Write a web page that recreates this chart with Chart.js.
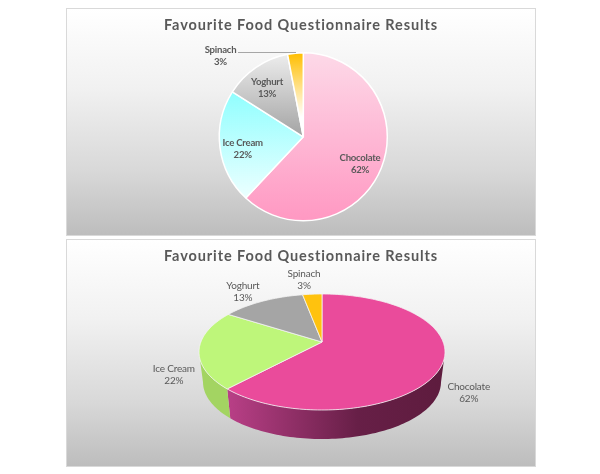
<!DOCTYPE html>
<html>
<head>
<meta charset="utf-8">
<title>Favourite Food Questionnaire Results</title>
<script src="https://cdn.jsdelivr.net/npm/chart.js@4"></script>
<style>
  html, body { margin: 0; background: #fff; }
  .card {
    position: absolute;
    left: 66px;
    width: 468px;
    height: 226px;
    border: 1px solid #d9d9d9;
    background: linear-gradient(#ffffff 0%, #f1f1f1 35%, #d8d8d8 72%, #bdbdbd 100%);
  }
  #flatCard { top: 8px; }
  #tiltedCard { top: 239px; }
</style>
</head>
<body>
<div class="card" id="flatCard"><canvas id="flatPie" width="468" height="226"></canvas></div>
<div class="card" id="tiltedCard"><canvas id="tiltedPie" width="468" height="226"></canvas></div>
<script>
const categories = ["Chocolate", "Ice Cream", "Yoghurt", "Spinach"];
const shares = [62, 22, 13, 3];

const chartTitle = "Favourite Food Questionnaire Results";

// vertical fades of the flat pie: [top y, bottom y, top colour, bottom colour]
const flatFades = [
  [44, 212, "#fdd9e8", "#ff98c2"],
  [82, 190, "#8ffefe", "#edffff"],
  [46, 128, "#ececec", "#a3a3a3"],
  [44, 108, "#ffbe00", "#ffffff"],
];
const tiltedColors = ["#ea4b9b", "#bef67a", "#a5a5a5", "#ffc20e"];
const wallColors = [
  [[0, "#b83f86"], [0.6, "#671f47"], [1, "#5e1c3e"]],
  [[0, "#a3d462"], [1, "#a3d462"]],
  [[0, "#8a8a8a"], [1, "#8a8a8a"]],
  [[0, "#d9a40a"], [1, "#d9a40a"]],
];

// label centres, canvas pixels
const flatLabelSpots = [[293, 154.9], [175.7, 140], [200, 78.7], [153.5, 46.9]];
const tiltedLabelSpots = [[401.7, 153.2], [106.8, 135], [175.8, 51.3], [237, 40]];

// ellipse of the 3D pie, see TiltedArc
const SQUASH = 58 / 123;
const APEX_SHIFT = -0.172;
const WALL_DROP = 30;
const WALL_NARROW = 119 / 123;
const WALL_RY = 57 / 58;

function project(angle) {
  const u = Math.cos(angle), v = Math.sin(angle);
  const w = 1 + APEX_SHIFT * v;
  return {
    x: u * Math.sqrt(1 - APEX_SHIFT * APEX_SHIFT) / w,
    y: (v + APEX_SHIFT) / w,
  };
}

// pie slice seen in perspective, with a side wall along the front of the rim
class TiltedArc extends Chart.ArcElement {
  static id = "tiltedArc";
  static defaults = { wall: "#000000" };

  draw(ctx) {
    const { x, y, outerRadius: r, startAngle, endAngle } = this.getProps(
      ["x", "y", "outerRadius", "startAngle", "endAngle"]
    );
    const steps = Math.max(8, Math.ceil((endAngle - startAngle) * 40));
    const rim = [];
    for (let i = 0; i <= steps; i++) {
      rim.push(project(startAngle + (endAngle - startAngle) * i / steps));
    }
    const front = rim.filter((p) => p.y >= 0);

    ctx.save();
    if (front.length > 1) {
      ctx.beginPath();
      front.forEach((p) => ctx.lineTo(x + r * p.x, y + r * SQUASH * p.y));
      front.slice().reverse().forEach((p) => {
        ctx.lineTo(x + r * WALL_NARROW * p.x, y + WALL_DROP + r * SQUASH * WALL_RY * p.y);
      });
      ctx.closePath();
      ctx.fillStyle = this.options.wall;
      ctx.fill();
    }

    ctx.beginPath();
    ctx.moveTo(x, y + r * SQUASH * APEX_SHIFT);
    rim.forEach((p) => ctx.lineTo(x + r * p.x, y + r * SQUASH * p.y));
    ctx.closePath();
    ctx.fillStyle = this.options.backgroundColor;
    ctx.fill();
    ctx.lineWidth = this.options.borderWidth;
    ctx.strokeStyle = this.options.borderColor;
    ctx.lineJoin = "round";
    ctx.stroke();
    ctx.restore();
  }
}

class TiltedPieController extends Chart.PieController {
  static id = "tiltedPie";
  static defaults = { dataElementType: "tiltedArc" };
}

Chart.register(TiltedArc, TiltedPieController);

const textLayer = {
  id: "textLayer",
  afterDatasetsDraw(chart, args, opts) {
    const ctx = chart.ctx;
    ctx.save();
    ctx.textAlign = "center";
    ctx.textBaseline = "middle";
    ctx.fillStyle = "#595959";

    ctx.font = "700 14.5px Lato";
    ctx.letterSpacing = "0.9px";
    ctx.fillText(chartTitle, chart.width / 2, opts.titleY);

    if (opts.leader) {
      ctx.strokeStyle = "#a6a6a6";
      ctx.lineWidth = 1;
      ctx.beginPath();
      ctx.moveTo(opts.leader[0], opts.leader[1]);
      ctx.lineTo(opts.leader[2], opts.leader[3]);
      ctx.stroke();
    }

    ctx.font = opts.labelFont;
    ctx.letterSpacing = opts.labelSpacing;
    opts.spots.forEach((spot, i) => {
      ctx.fillText(categories[i], spot[0], spot[1] - 6);
      ctx.fillText(shares[i] + "%", spot[0], spot[1] + 6);
    });
    ctx.restore();
  },
};

const flatCanvas = document.getElementById("flatPie");
const flatColors = flatFades.map((f) => {
  const g = flatCanvas.getContext("2d").createLinearGradient(0, f[0], 0, f[1]);
  g.addColorStop(0, f[2]);
  g.addColorStop(1, f[3]);
  return g;
});

new Chart(flatCanvas, {
  type: "pie",
  data: {
    labels: categories,
    datasets: [{
      data: shares,
      backgroundColor: flatColors,
      borderColor: "#ffffff",
      borderWidth: 1.5,
    }],
  },
  options: {
    responsive: false,
    maintainAspectRatio: false,
    animation: false,
    events: [],
    radius: 84,
    layout: { padding: { left: 4.6, top: 29.6 } },
    plugins: {
      legend: { display: false },
      tooltip: { enabled: false },
      textLayer: {
        titleY: 16.7,
        spots: flatLabelSpots,
        labelFont: "700 9.6px Lato",
        labelSpacing: "-0.25px",
        leader: [171, 43.5, 229, 43.5],
      },
    },
  },
  plugins: [textLayer],
});

const tiltedCanvas = document.getElementById("tiltedPie");
const wallFills = wallColors.map((stops) => {
  const g = tiltedCanvas.getContext("2d").createLinearGradient(162, 0, 376, 0);
  stops.forEach((s) => g.addColorStop(s[0], s[1]));
  return g;
});

new Chart(tiltedCanvas, {
  type: "tiltedPie",
  data: {
    labels: categories,
    datasets: [{
      data: shares,
      backgroundColor: tiltedColors,
      wall: wallFills,
      borderColor: "#f4f4f4",
      borderWidth: 0.8,
      clip: false,
    }],
  },
  options: {
    responsive: false,
    maintainAspectRatio: false,
    animation: false,
    events: [],
    radius: 123,
    layout: { padding: { left: 42, bottom: 2 } },
    plugins: {
      legend: { display: false },
      tooltip: { enabled: false },
      textLayer: {
        titleY: 16.7,
        spots: tiltedLabelSpots,
        labelFont: "400 10px Lato",
        labelSpacing: "-0.2px",
      },
    },
  },
  plugins: [textLayer],
});
</script>
</body>
</html>
